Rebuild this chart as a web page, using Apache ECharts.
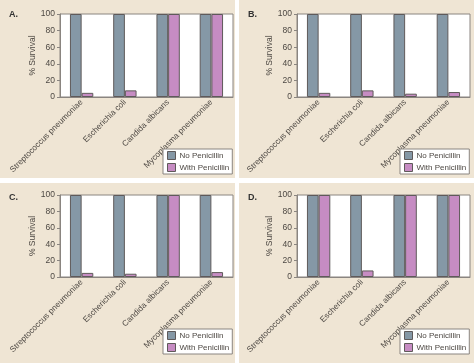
<!DOCTYPE html>
<html>
<head>
<meta charset="utf-8">
<script src="https://cdn.jsdelivr.net/npm/echarts@6/dist/echarts.min.js"></script>
<style>html,body{margin:0;padding:0;background:#fff}#c{width:474px;height:363px}</style>
</head>
<body>
<div id="c"></div>
<script>
const categories = ['Streptococcus pneumoniae', 'Escherichia coli', 'Candida albicans', 'Mycoplasma pneumoniae'];
const panelLabels = ['A.', 'B.', 'C.', 'D.'];
const seriesNames = ['No Penicillin', 'With Penicillin'];
const noPenA = [100, 100, 100, 100];
const withPenA = [5, 8, 100, 100];
const noPenB = [100, 100, 100, 100];
const withPenB = [5, 8, 4, 6];
const noPenC = [100, 100, 100, 100];
const withPenC = [5, 4, 100, 6];
const noPenD = [100, 100, 100, 100];
const withPenD = [100, 8, 100, 100];
const yTicks = [0, 20, 40, 60, 80, 100];

const panelData = [[noPenA, withPenA], [noPenB, withPenB], [noPenC, withPenC], [noPenD, withPenD]];
const panels = [
  {bx: 0, by: 0, bw: 235, bh: 178, left: 60, top: 14, h: 83},
  {bx: 239, by: 0, bw: 235, bh: 178, left: 297, top: 14, h: 83},
  {bx: 0, by: 183, bw: 235, bh: 180, left: 60, top: 195, h: 82},
  {bx: 239, by: 183, bw: 235, bh: 180, left: 297, top: 195, h: 82}
];
const colors = ['#8598a6', '#c68cc3'];
const bg = '#efe5d4';
const txt = '#4d4843';
const font = 'Liberation Sans';

const grid = [], xAxis = [], yAxis = [], series = [], legend = [], graphic = [];
panels.forEach((p, i) => {
  graphic.push({type: 'rect', z: -10, shape: {x: p.bx, y: p.by, width: p.bw, height: p.bh}, style: {fill: bg}});
  graphic.push({type: 'text', left: p.bx + 9, top: p.by + 10, style: {text: panelLabels[i], fontSize: 9, fontWeight: 'bold', fill: '#333', fontFamily: font}});
  grid.push({left: p.left, top: p.top, width: 173, height: p.h, show: true, backgroundColor: '#fff', borderColor: '#8a8580', borderWidth: 1});
  xAxis.push({type: 'category', gridIndex: i, data: categories,
    axisLine: {lineStyle: {color: '#8a8580'}}, axisTick: {show: false},
    axisLabel: {rotate: 45, fontSize: 8.2, color: txt, fontFamily: font, margin: 4, interval: 0}});
  yAxis.push({type: 'value', gridIndex: i, min: 0, max: 100, interval: 20,
    name: '% Survival', nameLocation: 'middle', nameGap: 23, nameRotate: 90,
    nameTextStyle: {fontSize: 8.5, color: txt, fontFamily: font},
    axisLine: {show: true, lineStyle: {color: '#8a8580'}}, axisTick: {show: true, length: 3, lineStyle: {color: '#8a8580'}},
    splitLine: {show: false},
    axisLabel: {fontSize: 8.5, color: txt, fontFamily: font, margin: 5,
      formatter: v => yTicks.includes(v) ? String(v) : ''}});
  seriesNames.forEach((n, k) => {
    series.push({type: 'bar', name: n, xAxisIndex: i, yAxisIndex: i, data: panelData[i][k],
      barGap: '0%', barCategoryGap: '46%',
      itemStyle: {color: colors[k], borderColor: '#5f5a5a', borderWidth: 1}});
  });
  legend.push({data: seriesNames, orient: 'vertical', left: p.left + 103, top: p.top + p.h + 52,
    backgroundColor: '#fff', borderColor: '#8a8580', borderWidth: 1, padding: [2, 3, 2, 4],
    itemGap: 3, itemWidth: 8, itemHeight: 8, icon: 'rect',
    itemStyle: {borderColor: '#5f5a5a', borderWidth: 1},
    textStyle: {fontSize: 8, color: txt, fontFamily: font, lineHeight: 9, padding: [0, 0, 0, -1]},
    selectedMode: false});
});

const chart = echarts.init(document.getElementById('c'), null, {renderer: 'canvas'});
chart.setOption({backgroundColor: '#fff', animation: false, grid, xAxis, yAxis, series, legend, graphic});
</script>
</body>
</html>
